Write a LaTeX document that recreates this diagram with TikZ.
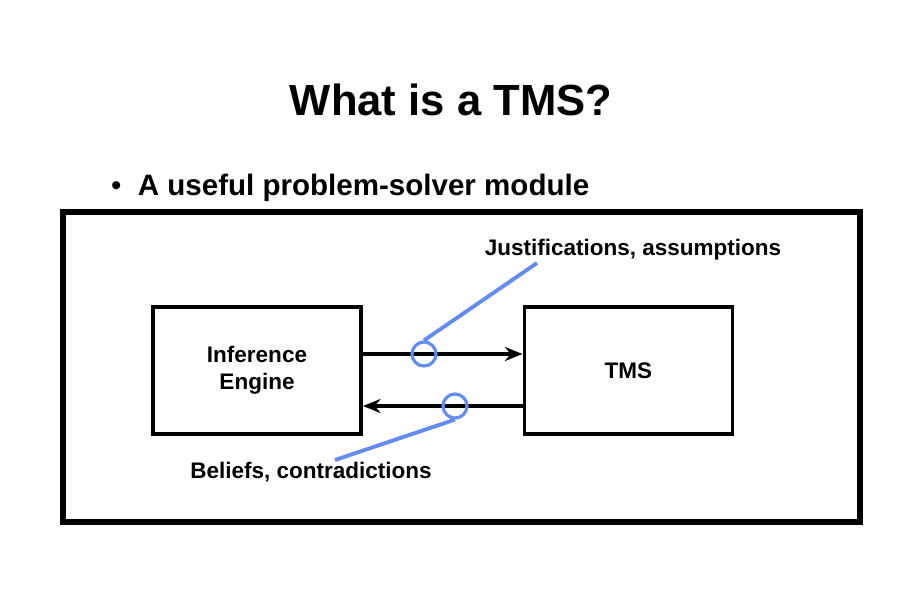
\documentclass[tikz,border=0pt]{standalone}
\usepackage{fontspec}
\setmainfont{Liberation Sans}
\usetikzlibrary{arrows.meta}
\usetikzlibrary{shapes.geometric}
\definecolor{callout}{RGB}{100,140,240}
\tikzset{
	every path/.style={thick},
	align=center,
	module/.style={
		draw,
		rectangle,
		line width=1.1pt,
		minimum width=2.08cm,
		minimum height=1.27cm,
		font=\fontsize{6.4}{7.6}\selectfont\bfseries
	},
	flow/.style={
		line width=0.9pt,
		-{Stealth[length=5pt,width=4pt]}
	},
	ring/.style={
		draw=callout,
		line width=0.9pt,
		ellipse,
		minimum width=0.24cm,
		minimum height=0.24cm,
		inner sep=0pt
	},
	pointer/.style={callout, line width=1.1pt},
	tag/.style={font=\fontsize{6.4}{7.6}\selectfont\bfseries},
}
\begin{document}
\begin{tikzpicture}[x=0.01cm,y=-0.01cm]
	\useasboundingbox (0,0) rectangle (908,590);

	\node[font=\fontsize{12.4}{14}\selectfont\bfseries] (title) at (451,100) {What is a TMS?};
	\node[font=\fontsize{8.4}{10}\selectfont\bfseries, anchor=west] (bullet) at (98,188) {{\mdseries\textbullet}\ \ A useful problem-solver module};

	\draw[line width=1.5pt] (63,212) rectangle (860,522);

	\node[module] (engine) at (257,370.5) {Inference\\Engine};
	\node[module] (tms) at (628.5,370.5) {TMS};

	\coordinate (up) at (tms.west |- 0,354);
	\coordinate (down) at (engine.east |- 0,406);
	\draw[flow] (engine.east |- 0,354) -- (up);
	\draw[flow] (tms.west |- 0,406) -- (down);

	\node[ring] (ringA) at (424,354) {};
	\node[ring] (ringB) at (455,406) {};

	\node[tag] (just) at (633,250) {Justifications, assumptions};
	\node[tag] (bel) at (311,472) {Beliefs, contradictions};

	\coordinate (justend) at (537,263);
	\coordinate (belend) at (335,460);
	\draw[pointer] (ringA.north) -- (justend);
	\draw[pointer] (ringB.south) -- (belend);
\end{tikzpicture}
\end{document}
